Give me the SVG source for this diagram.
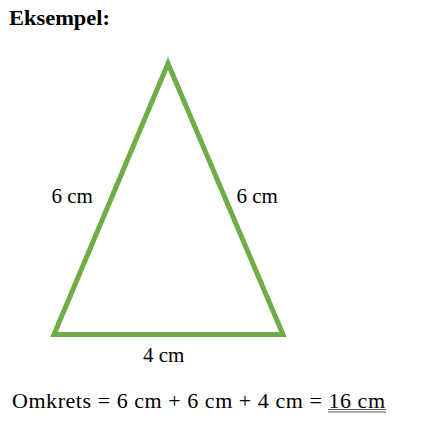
<svg xmlns="http://www.w3.org/2000/svg" width="429" height="436" viewBox="0 0 429 436">
<style>
.t{font-family:"Liberation Serif","Times New Roman",serif;fill:#000}
.lbl{font-size:21px}
</style>
<rect width="429" height="436" fill="#fff"/>
<text class="t" x="9" y="25" font-size="21" font-weight="bold" textLength="101" lengthAdjust="spacingAndGlyphs">Eksempel:</text>
<g id="triangle">
<polygon points="168,63.5 54,334.5 283,334.5" fill="none" stroke="#70ad47" stroke-width="5" stroke-linejoin="miter" stroke-miterlimit="10"/>
</g>
<g id="labels">
<text class="t lbl" x="51.5" y="202.7">6 cm</text>
<text class="t lbl" x="236.5" y="202.7">6 cm</text>
<text class="t lbl" x="143" y="361.7">4 cm</text>
</g>
<g id="formula">
<text class="t" x="12" y="407.7" font-size="22" textLength="373" lengthAdjust="spacing">Omkrets = 6 cm + 6 cm + 4 cm = 16 cm</text>
<line x1="328" y1="409.5" x2="386" y2="409.5" stroke="#555" stroke-width="1"/>
<line x1="328" y1="412" x2="386" y2="412" stroke="#555" stroke-width="1"/>
</g>
</svg>
